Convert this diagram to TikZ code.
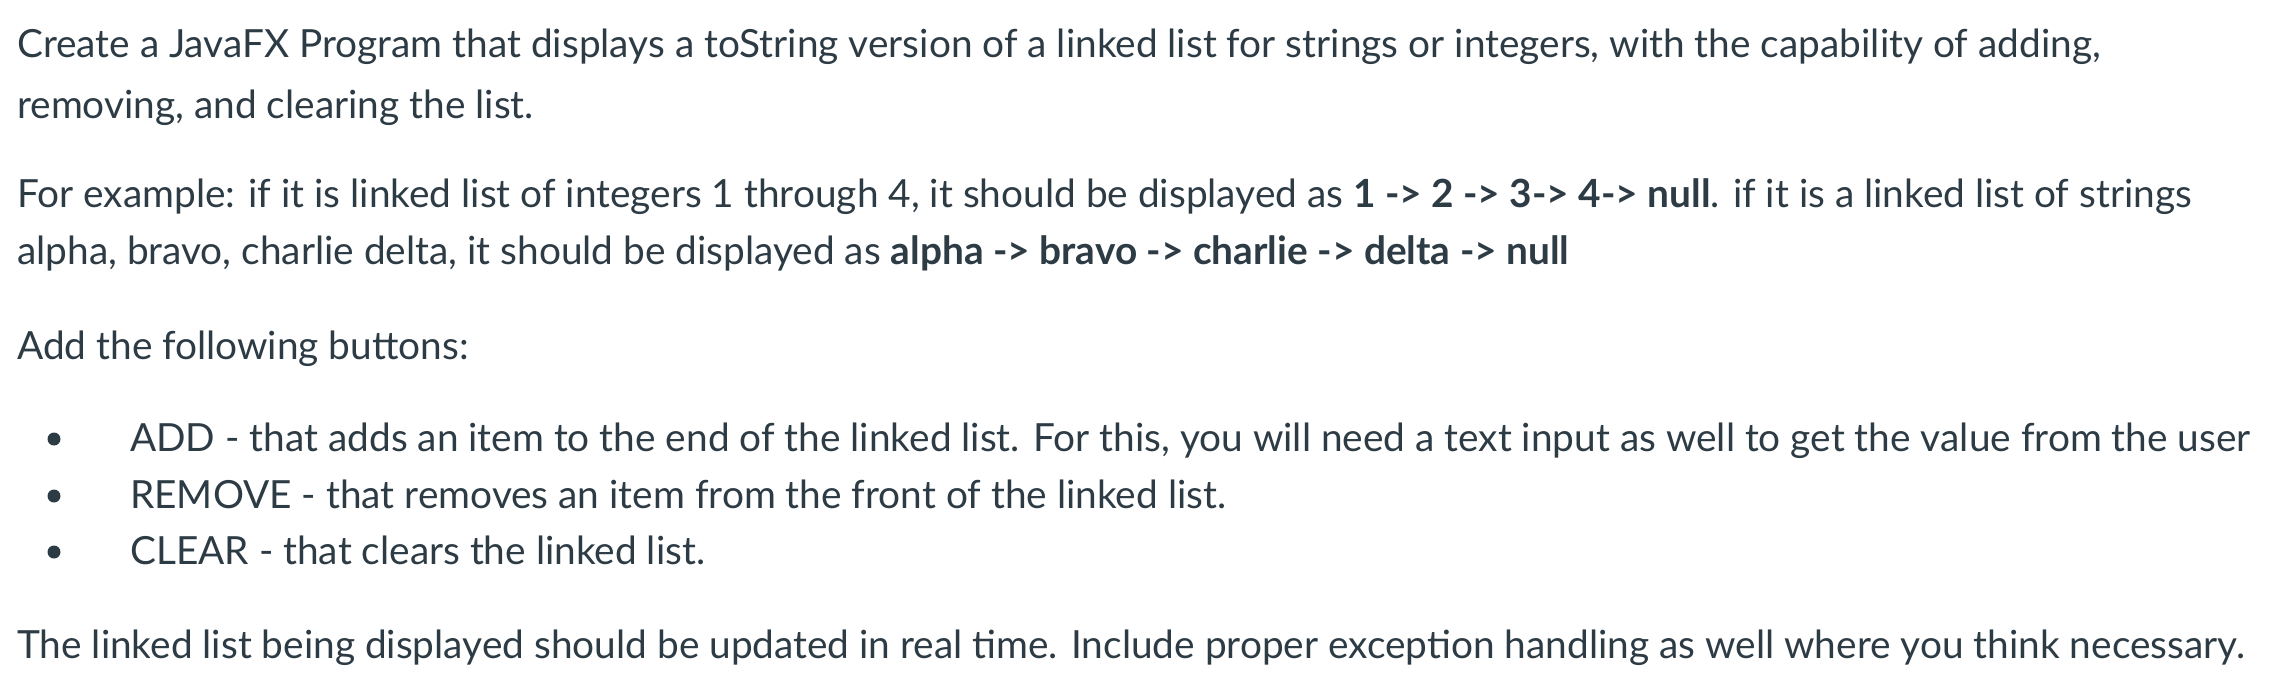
\documentclass[tikz,border=0pt]{standalone}
\usepackage{fontspec}
\setmainfont{Lato}
\definecolor{txt}{HTML}{2D3B45}
\begin{document}
\begin{tikzpicture}[x=1pt,y=-1pt,
  t/.style={anchor=base west,inner sep=0pt,text=txt,font=\fontsize{38.8}{46}\selectfont}]
\useasboundingbox (0,0) rectangle (2278,686);
\node[t] (l1) at (17,57) {Create a JavaFX Program that displays a toString version of a linked list for strings or integers, with the capability of adding,};
\node[t] (l2) at (17,118) {removing, and clearing the list.};
\node[t] (l3) at (17,207) {For example: if it is linked list of integers 1 through 4, it should be displayed as \textbf{1 -> 2 -> 3-> 4-> null}. if it is a linked list of strings};
\node[t] (l4) at (17,264) {alpha, bravo, charlie delta, it should be displayed as \textbf{alpha -> bravo -> charlie -> delta -> null}};
\node[t] (l5) at (17,359) {Add the following buttons:};
\foreach \y/\s [count=\i] in {451/{ADD - that adds an item to the end of the linked list. For this, you will need a text input as well to get the value from the user},508/{REMOVE - that removes an item from the front of the linked list.},564/{CLEAR - that clears the linked list.}}{
  \fill[txt] (54,\y-12) circle (6.5);
  \node[t] (b\i) at (130,\y) {\s};
}
\node[t] (l6) at (17,658) {The linked list being displayed should be updated in real time. Include proper exception handling as well where you think necessary.};
\end{tikzpicture}
\end{document}
